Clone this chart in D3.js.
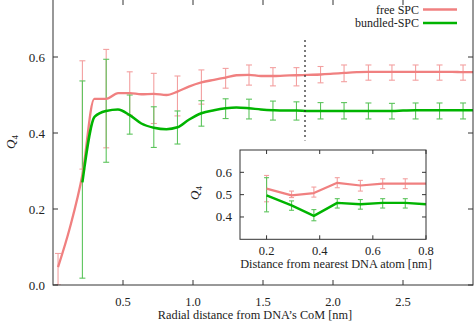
<!DOCTYPE html>
<html>
<head>
<meta charset="utf-8" />
<script src="https://cdn.jsdelivr.net/npm/d3@7"></script>
<style>
  body { margin: 0; background: #fff; }
  text { font-family: "Liberation Serif", "DejaVu Serif", serif; fill: #222; }
</style>
</head>
<body>
<div id="chart"></div>
<script>
    // ---- main plot data (radial distance from DNA's CoM) ----
    let freeX   = [0.036, 0.12, 0.21, 0.295, 0.38, 0.465, 0.55, 0.63, 0.72, 0.81, 0.889, 0.97, 1.06, 1.15, 1.233, 1.31, 1.4, 1.485, 1.571, 1.65, 1.739, 1.82, 1.911, 2.0, 2.079, 2.17, 2.253, 2.34, 2.421, 2.5, 2.59, 2.68, 2.761, 2.85, 2.929, 3.0];
    let freeY   = [0.047, 0.15, 0.29, 0.49, 0.49, 0.505, 0.505, 0.502, 0.503, 0.500, 0.509, 0.522, 0.533, 0.540, 0.546, 0.552, 0.553, 0.550, 0.550, 0.551, 0.552, 0.553, 0.554, 0.556, 0.558, 0.560, 0.561, 0.561, 0.561, 0.561, 0.561, 0.561, 0.561, 0.561, 0.560, 0.560];
    let bundX   = [0.21, 0.298, 0.38, 0.464, 0.548, 0.631, 0.72, 0.81, 0.889, 0.97, 1.06, 1.15, 1.233, 1.31, 1.4, 1.485, 1.571, 1.65, 1.739, 1.82, 1.911, 2.0, 2.079, 2.17, 2.253, 2.34, 2.421, 2.5, 2.59, 2.68, 2.761, 2.85, 2.929, 3.0];
    let bundY   = [0.27, 0.443, 0.458, 0.462, 0.447, 0.425, 0.414, 0.410, 0.415, 0.435, 0.452, 0.460, 0.465, 0.467, 0.465, 0.462, 0.460, 0.459, 0.459, 0.458, 0.458, 0.458, 0.458, 0.458, 0.458, 0.458, 0.458, 0.459, 0.460, 0.460, 0.460, 0.460, 0.460, 0.460];

    // error bars: x, low, high
    let freeErrX  = [0.036, 0.21, 0.38, 0.548, 0.72, 0.889, 1.06, 1.233, 1.4, 1.571, 1.739, 1.911, 2.079, 2.253, 2.421, 2.59, 2.761, 2.929];
    let freeErrLo = [0.0, 0.305, 0.361, 0.447, 0.425, 0.445, 0.476, 0.518, 0.526, 0.524, 0.524, 0.532, 0.535, 0.539, 0.539, 0.539, 0.539, 0.539];
    let freeErrHi = [0.083, 0.59, 0.62, 0.561, 0.557, 0.55, 0.566, 0.57, 0.579, 0.572, 0.572, 0.575, 0.579, 0.579, 0.579, 0.579, 0.579, 0.579];
    let bundErrX  = [0.21, 0.38, 0.548, 0.72, 0.889, 1.06, 1.233, 1.4, 1.571, 1.739, 1.911, 2.079, 2.253, 2.421, 2.59, 2.761, 2.929];
    let bundErrLo = [0.018, 0.323, 0.397, 0.362, 0.371, 0.418, 0.438, 0.437, 0.434, 0.434, 0.437, 0.437, 0.437, 0.437, 0.437, 0.437, 0.437];
    let bundErrHi = [0.537, 0.594, 0.5, 0.469, 0.458, 0.485, 0.49, 0.489, 0.484, 0.482, 0.48, 0.48, 0.479, 0.478, 0.479, 0.479, 0.479];

    // ---- inset data (distance from nearest DNA atom) ----
    let insX      = [0.2, 0.294, 0.378, 0.466, 0.553, 0.637, 0.722, 0.8];
    let insFreeY  = [0.527, 0.497, 0.507, 0.553, 0.541, 0.549, 0.549, 0.549];
    let insBundY  = [0.497, 0.452, 0.405, 0.463, 0.457, 0.463, 0.463, 0.457];
    let insErrX      = [0.2, 0.294, 0.378, 0.466, 0.553, 0.637, 0.722];
    let insFreeErrLo = [0.468, 0.487, 0.489, 0.531, 0.516, 0.527, 0.527];
    let insFreeErrHi = [0.586, 0.516, 0.534, 0.576, 0.564, 0.571, 0.571];
    let insBundErrLo = [0.423, 0.43, 0.383, 0.44, 0.435, 0.44, 0.44];
    let insBundErrHi = [0.576, 0.472, 0.433, 0.482, 0.478, 0.482, 0.482];

    let xTicks = [0.5, 1.0, 1.5, 2.0, 2.5];
    let yTicks = [0.0, 0.2, 0.4, 0.6];
    let insXTicks = [0.2, 0.4, 0.6, 0.8];
    let insYTicks = [0.4, 0.5, 0.6];
    let series = ['free SPC', 'bundled-SPC'];
    let cutoff = { x: 1.8, lo: 0.38, hi: 0.645 };

    let redLine = '#f08080', redErr = '#f3a0a0';
    let greenLine = '#00b400', greenErr = '#5cc45c';
    let axisCol = '#333';

    let W = 474, H = 322;
    let svg = d3.select('#chart').append('svg')
        .attr('width', W).attr('height', H);

    let x = d3.scaleLinear().domain([0, 3]).range([53, 473]);
    let y = d3.scaleLinear().domain([0, 0.75]).range([285, 0]);

    svg.append('clipPath').attr('id', 'clipMain')
        .append('rect').attr('x', x(0)).attr('y', -5)
        .attr('width', x(3) - x(0)).attr('height', y(0) + 5);

    let g = svg.append('g');
    let plot = g.append('g').attr('clip-path', 'url(#clipMain)');

    function errorBars(layer, xs, lo, hi, sx, sy, color, cap) {
        xs.forEach((v, i) => {
            let px = sx(v);
            layer.append('line').attr('x1', px).attr('x2', px)
                .attr('y1', sy(lo[i])).attr('y2', sy(hi[i]))
                .attr('stroke', color).attr('stroke-width', 1.1);
            [lo[i], hi[i]].forEach(e => {
                layer.append('line').attr('x1', px - cap).attr('x2', px + cap)
                    .attr('y1', sy(e)).attr('y2', sy(e))
                    .attr('stroke', color).attr('stroke-width', 1.1);
            });
        });
    }

    function curve(layer, xs, ys, sx, sy, color, w) {
        let line = d3.line().x((d, i) => sx(xs[i])).y(d => sy(d)).curve(d3.curveMonotoneX);
        layer.append('path').datum(ys).attr('d', line)
            .attr('fill', 'none').attr('stroke', color)
            .attr('stroke-width', w).attr('stroke-linejoin', 'round');
    }

    errorBars(plot, freeErrX, freeErrLo, freeErrHi, x, y, redErr, 3);
    errorBars(plot, bundErrX, bundErrLo, bundErrHi, x, y, greenErr, 3);
    curve(plot, freeX, freeY, x, y, redLine, 2.3);
    curve(plot, bundX, bundY, x, y, greenLine, 2.5);

    // dotted cutoff line
    g.append('line').attr('x1', x(cutoff.x)).attr('x2', x(cutoff.x))
        .attr('y1', y(cutoff.hi)).attr('y2', y(cutoff.lo))
        .attr('stroke', '#222').attr('stroke-width', 1.2)
        .attr('stroke-dasharray', '2,3');

    // frame + inward ticks (main)
    g.append('rect').attr('x', x(0)).attr('y', y(0.75) - 2)
        .attr('width', x(3) - x(0)).attr('height', y(0) - y(0.75) + 2)
        .attr('fill', 'none').attr('stroke', axisCol).attr('stroke-width', 1);
    xTicks.forEach(t => {
        g.append('line').attr('x1', x(t)).attr('x2', x(t)).attr('y1', y(0)).attr('y2', y(0) - 5).attr('stroke', axisCol);
        g.append('line').attr('x1', x(t)).attr('x2', x(t)).attr('y1', y(0.75)).attr('y2', y(0.75) + 5).attr('stroke', axisCol);
        g.append('text').attr('x', x(t)).attr('y', 305.5).attr('text-anchor', 'middle')
            .attr('font-size', 12.5).text(d3.format('.1f')(t));
    });
    yTicks.forEach(t => {
        g.append('line').attr('x1', x(0)).attr('x2', x(0) + 5).attr('y1', y(t)).attr('y2', y(t)).attr('stroke', axisCol);
        g.append('line').attr('x1', x(3)).attr('x2', x(3) - 5).attr('y1', y(t)).attr('y2', y(t)).attr('stroke', axisCol);
        g.append('text').attr('x', 45).attr('y', y(t) + 4.5).attr('text-anchor', 'end')
            .attr('font-size', 13).text(d3.format('.1f')(t));
    });

    g.append('text').attr('x', 255).attr('y', 319.3).attr('text-anchor', 'middle')
        .attr('font-size', 12.3).text('Radial distance from DNA\u2019s CoM [nm]');
    let yl = g.append('text').attr('transform', 'translate(15,142) rotate(-90)')
        .attr('text-anchor', 'middle').attr('font-size', 13);
    yl.append('tspan').attr('font-style', 'italic').text('Q');
    yl.append('tspan').attr('font-size', 9).attr('dy', 3).text('4');

    // legend
    let legend = g.append('g');
    series.forEach((s, i) => {
        let ly = 9.5 + i * 13.5;
        legend.append('text').attr('x', 419).attr('y', ly + 4.2).attr('text-anchor', 'end')
            .attr('font-size', 12).text(s);
        legend.append('line').attr('x1', 423).attr('x2', 457).attr('y1', ly).attr('y2', ly)
            .attr('stroke', i === 0 ? redLine : greenLine).attr('stroke-width', 2.5);
    });

    // ---- inset ----
    let xi = d3.scaleLinear().domain([0.1, 0.8]).range([240, 426]);
    let yi = d3.scaleLinear().domain([0.3, 0.7]).range([239.3, 150]);
    let gi = svg.append('g');
    gi.append('rect').attr('x', xi(0.1)).attr('y', yi(0.7))
        .attr('width', xi(0.8) - xi(0.1)).attr('height', yi(0.3) - yi(0.7))
        .attr('fill', '#fff').attr('stroke', 'none');
    errorBars(gi, insErrX, insFreeErrLo, insFreeErrHi, xi, yi, redErr, 2.5);
    errorBars(gi, insErrX, insBundErrLo, insBundErrHi, xi, yi, greenErr, 2.5);
    let linI = (layer, ys, color, w) => {
        let line = d3.line().x((d, i) => xi(insX[i])).y(d => yi(d));
        layer.append('path').datum(ys).attr('d', line).attr('fill', 'none')
            .attr('stroke', color).attr('stroke-width', w).attr('stroke-linejoin', 'round');
    };
    linI(gi, insFreeY, redLine, 2.2);
    linI(gi, insBundY, greenLine, 2.4);
    gi.append('rect').attr('x', xi(0.1)).attr('y', yi(0.7))
        .attr('width', xi(0.8) - xi(0.1)).attr('height', yi(0.3) - yi(0.7))
        .attr('fill', 'none').attr('stroke', axisCol).attr('stroke-width', 1);
    insXTicks.forEach(t => {
        gi.append('line').attr('x1', xi(t)).attr('x2', xi(t)).attr('y1', yi(0.3)).attr('y2', yi(0.3) - 4).attr('stroke', axisCol);
        gi.append('line').attr('x1', xi(t)).attr('x2', xi(t)).attr('y1', yi(0.7)).attr('y2', yi(0.7) + 4).attr('stroke', axisCol);
        gi.append('text').attr('x', xi(t)).attr('y', 254.5).attr('text-anchor', 'middle')
            .attr('font-size', 12.5).text(d3.format('.1f')(t));
    });
    insYTicks.forEach(t => {
        gi.append('line').attr('x1', xi(0.1)).attr('x2', xi(0.1) + 4).attr('y1', yi(t)).attr('y2', yi(t)).attr('stroke', axisCol);
        gi.append('line').attr('x1', xi(0.8)).attr('x2', xi(0.8) - 4).attr('y1', yi(t)).attr('y2', yi(t)).attr('stroke', axisCol);
        gi.append('text').attr('x', 232).attr('y', yi(t) + 4.5).attr('text-anchor', 'end')
            .attr('font-size', 13).text(d3.format('.1f')(t));
    });
    gi.append('text').attr('x', 336).attr('y', 268.3).attr('text-anchor', 'middle')
        .attr('font-size', 12.3).text('Distance from nearest DNA atom [nm]');
    let yli = gi.append('text').attr('transform', 'translate(199,193) rotate(-90)')
        .attr('text-anchor', 'middle').attr('font-size', 13);
    yli.append('tspan').attr('font-style', 'italic').text('Q');
    yli.append('tspan').attr('font-size', 9).attr('dy', 3).text('4');
</script>
</body>
</html>
